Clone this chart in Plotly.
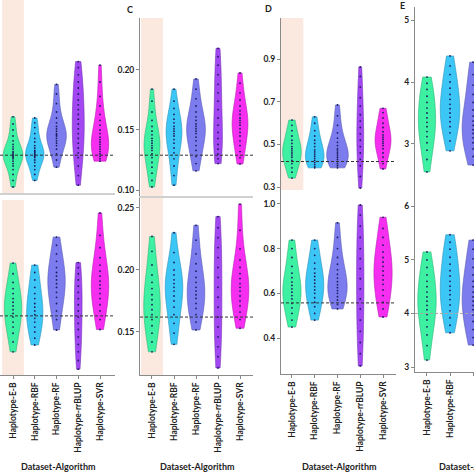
import plotly.graph_objects as go

# ---------------- data ----------------
ALGOS = ["Haplotype-E-B", "Haplotype-RBF", "Haplotype-RF", "Haplotype-rrBLUP", "Haplotype-SVR"]
COLORS = ["#3DF0A2", "#3CC6F6", "#7C7CEE", "#A247F2", "#F52EF0"]

B_top = [
    [0.1025, 0.108, 0.113, 0.117, 0.12, 0.122, 0.124, 0.126, 0.127, 0.128, 0.129, 0.13, 0.131, 0.132, 0.134, 0.136, 0.138, 0.141, 0.145, 0.15, 0.155, 0.161],
    [0.108, 0.113, 0.117, 0.12, 0.123, 0.125, 0.127, 0.128, 0.129, 0.13, 0.131, 0.132, 0.133, 0.135, 0.137, 0.14, 0.143, 0.147, 0.152, 0.156, 0.16],
    [0.119, 0.125, 0.13, 0.134, 0.137, 0.139, 0.141, 0.143, 0.145, 0.146, 0.147, 0.149, 0.151, 0.153, 0.156, 0.16, 0.165, 0.172, 0.18, 0.188],
    [0.104, 0.112, 0.12, 0.127, 0.131, 0.135, 0.139, 0.143, 0.147, 0.151, 0.155, 0.159, 0.163, 0.167, 0.171, 0.175, 0.18, 0.185, 0.19, 0.196, 0.202, 0.207],
    [0.124, 0.126, 0.128, 0.13, 0.132, 0.134, 0.136, 0.138, 0.14, 0.142, 0.144, 0.147, 0.15, 0.154, 0.158, 0.163, 0.17, 0.178, 0.19, 0.204],
]
C_top = [
    [0.1025, 0.108, 0.114, 0.119, 0.123, 0.127, 0.13, 0.133, 0.135, 0.137, 0.139, 0.141, 0.143, 0.146, 0.149, 0.153, 0.158, 0.165, 0.174, 0.184],
    [0.104, 0.112, 0.12, 0.126, 0.131, 0.135, 0.139, 0.142, 0.145, 0.147, 0.149, 0.151, 0.153, 0.156, 0.159, 0.163, 0.168, 0.174, 0.184],
    [0.116, 0.122, 0.128, 0.133, 0.137, 0.141, 0.144, 0.147, 0.149, 0.151, 0.153, 0.155, 0.158, 0.161, 0.165, 0.17, 0.176, 0.184, 0.1925],
    [0.122, 0.126, 0.13, 0.134, 0.138, 0.143, 0.148, 0.154, 0.16, 0.167, 0.174, 0.181, 0.188, 0.196, 0.204, 0.211, 0.218],
    [0.1217, 0.127, 0.132, 0.137, 0.141, 0.145, 0.148, 0.151, 0.154, 0.156, 0.158, 0.16, 0.163, 0.166, 0.17, 0.175, 0.181, 0.189, 0.1975],
]
D_top = [
    [0.342, 0.37, 0.39, 0.41, 0.425, 0.44, 0.45, 0.46, 0.47, 0.48, 0.49, 0.505, 0.52, 0.54, 0.565, 0.59, 0.615],
    [0.39, 0.395, 0.405, 0.415, 0.425, 0.435, 0.445, 0.455, 0.465, 0.475, 0.49, 0.505, 0.52, 0.54, 0.565, 0.6, 0.63],
    [0.39, 0.4, 0.41, 0.42, 0.43, 0.44, 0.45, 0.46, 0.47, 0.48, 0.495, 0.51, 0.53, 0.555, 0.59, 0.635, 0.686],
    [0.295, 0.35, 0.4, 0.43, 0.46, 0.49, 0.52, 0.55, 0.58, 0.61, 0.64, 0.68, 0.72, 0.77, 0.82, 0.865],
    [0.385, 0.41, 0.44, 0.46, 0.48, 0.495, 0.505, 0.515, 0.525, 0.535, 0.545, 0.56, 0.58, 0.6, 0.625, 0.65, 0.67],
]
E_top = [
    [2.55, 2.75, 2.9, 3.02, 3.12, 3.2, 3.28, 3.35, 3.42, 3.5, 3.58, 3.67, 3.77, 3.88, 3.98, 4.08],
    [2.89, 3.05, 3.18, 3.28, 3.36, 3.43, 3.5, 3.57, 3.64, 3.72, 3.8, 3.9, 4.0, 4.12, 4.26, 4.42],
    [2.66, 2.8, 2.92, 3.02, 3.1, 3.17, 3.23, 3.3, 3.37, 3.45, 3.55, 3.67, 3.8, 3.95, 4.12, 4.32],
]
B_bot = [
    [0.134, 0.142, 0.149, 0.154, 0.158, 0.162, 0.165, 0.168, 0.171, 0.174, 0.177, 0.181, 0.185, 0.19, 0.197, 0.2056],
    [0.1395, 0.145, 0.15, 0.154, 0.158, 0.161, 0.164, 0.167, 0.17, 0.173, 0.177, 0.181, 0.186, 0.192, 0.198, 0.204],
    [0.1516, 0.16, 0.167, 0.173, 0.178, 0.182, 0.186, 0.189, 0.192, 0.195, 0.198, 0.202, 0.207, 0.213, 0.22, 0.2266],
    [0.12, 0.127, 0.134, 0.14, 0.146, 0.152, 0.157, 0.162, 0.167, 0.172, 0.177, 0.182, 0.187, 0.192, 0.197, 0.202, 0.206],
    [0.152, 0.16, 0.167, 0.172, 0.177, 0.181, 0.185, 0.188, 0.191, 0.195, 0.199, 0.204, 0.21, 0.218, 0.228, 0.246],
]
C_bot = [
    [0.134, 0.142, 0.149, 0.155, 0.16, 0.164, 0.168, 0.172, 0.176, 0.18, 0.185, 0.19, 0.196, 0.204, 0.215, 0.227],
    [0.14, 0.149, 0.157, 0.164, 0.17, 0.175, 0.179, 0.183, 0.186, 0.189, 0.192, 0.196, 0.2, 0.206, 0.214, 0.23],
    [0.1516, 0.158, 0.164, 0.169, 0.173, 0.177, 0.18, 0.183, 0.186, 0.19, 0.194, 0.199, 0.205, 0.213, 0.224, 0.236],
    [0.121, 0.13, 0.138, 0.146, 0.154, 0.162, 0.17, 0.178, 0.186, 0.194, 0.202, 0.21, 0.218, 0.226, 0.234, 0.243],
    [0.153, 0.16, 0.166, 0.171, 0.175, 0.179, 0.183, 0.186, 0.189, 0.193, 0.197, 0.202, 0.208, 0.217, 0.232, 0.253],
]
D_bot = [
    [0.449, 0.48, 0.51, 0.535, 0.555, 0.575, 0.59, 0.605, 0.62, 0.635, 0.65, 0.67, 0.69, 0.72, 0.76, 0.8, 0.838],
    [0.48, 0.51, 0.54, 0.56, 0.58, 0.6, 0.615, 0.63, 0.645, 0.66, 0.675, 0.69, 0.71, 0.735, 0.77, 0.8, 0.838],
    [0.53, 0.55, 0.57, 0.585, 0.6, 0.612, 0.625, 0.638, 0.652, 0.668, 0.685, 0.705, 0.73, 0.76, 0.8, 0.85, 0.915],
    [0.275, 0.33, 0.38, 0.43, 0.48, 0.53, 0.575, 0.62, 0.665, 0.71, 0.755, 0.8, 0.85, 0.9, 0.95, 0.995],
    [0.494, 0.53, 0.56, 0.59, 0.615, 0.64, 0.66, 0.68, 0.7, 0.72, 0.74, 0.76, 0.785, 0.815, 0.85, 0.89, 0.94],
]
E_bot = [
    [3.13, 3.4, 3.6, 3.75, 3.88, 3.98, 4.07, 4.15, 4.23, 4.31, 4.4, 4.5, 4.6, 4.72, 4.86, 5.0, 5.15],
    [3.64, 3.78, 3.92, 4.05, 4.16, 4.26, 4.35, 4.43, 4.51, 4.6, 4.7, 4.8, 4.92, 5.05, 5.2, 5.33, 5.47],
    [3.41, 3.55, 3.7, 3.85, 3.97, 4.07, 4.15, 4.23, 4.31, 4.4, 4.5, 4.6, 4.72, 4.86, 5.02, 5.2, 5.37],
]
# dashed reference lines (None = not shown)
REF_TOP = [0.129, 0.129, 0.42, None]
REF_BOT = [0.163, 0.162, 0.557, 4.0]
PANEL_LETTERS = ["C", "D", "E"]
X_TITLE = "Dataset-Algorithm"

# ---------------- layout geometry (pixels) ----------------
S = 474.0
COL_X = [(0, 115), (140, 253), (281, 396), (415, 474)]
X_RANGES = [(-0.6, 4.69), (-0.545, 4.59), (-0.48, 4.57), (-0.52, 2.04)]
TOP_Y = [(0, 193), (18, 196), (18, 195), (7, 195)]
BOT_Y = [(200, 375), (198, 375), (190, 374), (193, 372)]
TOP_YR = [(0.0975, 0.2583), (0.095, 0.2433), (0.2624, 1.095), (2.177, 5.21)]
BOT_YR = [(0.1153, 0.2565), (0.1153, 0.258), (0.239, 1.062), (2.907, 6.25)]
TOP_TICKS = [None, [0.10, 0.15, 0.20], [0.3, 0.5, 0.7, 0.9], [3, 4, 5]]
BOT_TICKS = [None, [0.15, 0.20, 0.25], [0.4, 0.6, 0.8, 1.0], [3, 4, 5, 6]]
TICKFMT = [None, ".2f", ".1f", "d"]
WID_TOP = [[0.9, 0.85, 0.9, 0.55, 0.8], [0.72, 0.72, 0.85, 0.4, 0.72], [0.82, 0.82, 0.95, 0.3, 0.7], [0.75, 0.85, 0.95]]
WID_BOT = [[0.8, 0.75, 0.8, 0.35, 0.8], [0.75, 0.8, 0.8, 0.35, 0.8], [0.8, 0.8, 0.85, 0.32, 0.8], [0.8, 0.85, 0.95]]
BAND = [True, True, True, False]

TOP_DATA = [B_top, C_top, D_top, E_top]
BOT_DATA = [B_bot, C_bot, D_bot, E_bot]

FAM = "Lato"
FONT = dict(family=FAM, size=8.5, color="#222222", weight="bold")

def darker(hexc, f=0.75):
    r, g, b = int(hexc[1:3], 16), int(hexc[3:5], 16), int(hexc[5:7], 16)
    return "rgb(%d,%d,%d)" % (r * f, g * f, b * f)

fig = go.Figure()
layout = dict(width=474, height=474, margin=dict(l=0, r=0, t=0, b=0),
              paper_bgcolor="white", plot_bgcolor="white", showlegend=False,
              violinmode="overlay", shapes=[], annotations=[])

idx = 0
for row, (YS, YR, TK, DATA, WID, REF) in enumerate([
        (TOP_Y, TOP_YR, TOP_TICKS, TOP_DATA, WID_TOP, REF_TOP),
        (BOT_Y, BOT_YR, BOT_TICKS, BOT_DATA, WID_BOT, REF_BOT)]):
    for c in range(4):
        idx += 1
        xa = "x" if idx == 1 else "x%d" % idx
        ya = "y" if idx == 1 else "y%d" % idx
        xkey = "xaxis" if idx == 1 else "xaxis%d" % idx
        ykey = "yaxis" if idx == 1 else "yaxis%d" % idx
        x0, x1 = COL_X[c]
        y0, y1 = YS[c]
        xax = dict(domain=[x0 / S, min(x1 / S, 1.0)], range=list(X_RANGES[c]), anchor=ya,
                   showgrid=False, zeroline=False, showline=True, fixedrange=True,
                   tickvals=list(range(len(ALGOS))), ticktext=ALGOS)
        if row == 0:
            xax.update(linecolor="#d0d0d0", linewidth=1.5, showticklabels=False, ticks="")
        else:
            xax.update(linecolor="#8a8a8a", linewidth=1, showticklabels=True, ticks="outside",
                       ticklen=3, tickcolor="#888888", tickangle=-90, tickfont=FONT)
        yax = dict(domain=[1 - y1 / S, 1 - y0 / S], range=list(YR[c]), anchor=xa,
                   showgrid=False, zeroline=False, showline=True, linecolor="#8a8a8a",
                   linewidth=1, fixedrange=True)
        if TK[c] is None:
            yax.update(showticklabels=False, ticks="", linecolor="#cccccc")
        else:
            yax.update(tickvals=TK[c], tickformat=TICKFMT[c], ticks="outside", ticklen=3,
                       tickcolor="#888888", tickfont=FONT)
        layout[xkey] = xax
        layout[ykey] = yax

        if BAND[c]:
            layout["shapes"].append(dict(type="rect", xref=xa, yref=ya + " domain",
                                         x0=-0.5, x1=0.5, y0=0, y1=1, fillcolor="#FBE9E0",
                                         line=dict(width=0), layer="below"))
        for i, vals in enumerate(DATA[c]):
            fig.add_trace(go.Violin(
                x=[i] * len(vals), y=vals, xaxis=xa, yaxis=ya,
                width=WID[c][i], spanmode="hard", fillcolor=COLORS[i], opacity=1,
                line=dict(color=darker(COLORS[i]), width=0.6),
                points="all", pointpos=0, jitter=0.0,
                marker=dict(size=1.8, color="#1c1c60"),
                box_visible=False, meanline_visible=False, hoverinfo="skip"))
        if REF[c] is not None:
            layout["shapes"].append(dict(type="line", xref=xa + " domain", yref=ya,
                                         x0=0, x1=1, y0=REF[c], y1=REF[c],
                                         line=dict(color="#333333" if c < 3 else "#aaaaaa",
                                                   width=1, dash="3px,2px"), layer="above"))

# panel letters
for letter, (px, py) in zip(PANEL_LETTERS, [(130, 10), (268, 9), (402, 6)]):
    layout["annotations"].append(dict(text=letter, x=px / S, y=1 - py / S, xref="paper", yref="paper",
                                      xanchor="center", yanchor="middle", showarrow=False,
                                      font=dict(family=FAM, size=9, color="#222222", weight="bold")))
# x-axis titles
for px in [58, 197, 339, 476]:
    layout["annotations"].append(dict(text=X_TITLE, x=px / S, y=1 - 466 / S,
                                      xref="paper", yref="paper", xanchor="center", yanchor="middle",
                                      showarrow=False,
                                      font=dict(family=FAM, size=9, color="#222222", weight="bold")))

fig.update_layout(**layout)
fig.write_html("out.html")
